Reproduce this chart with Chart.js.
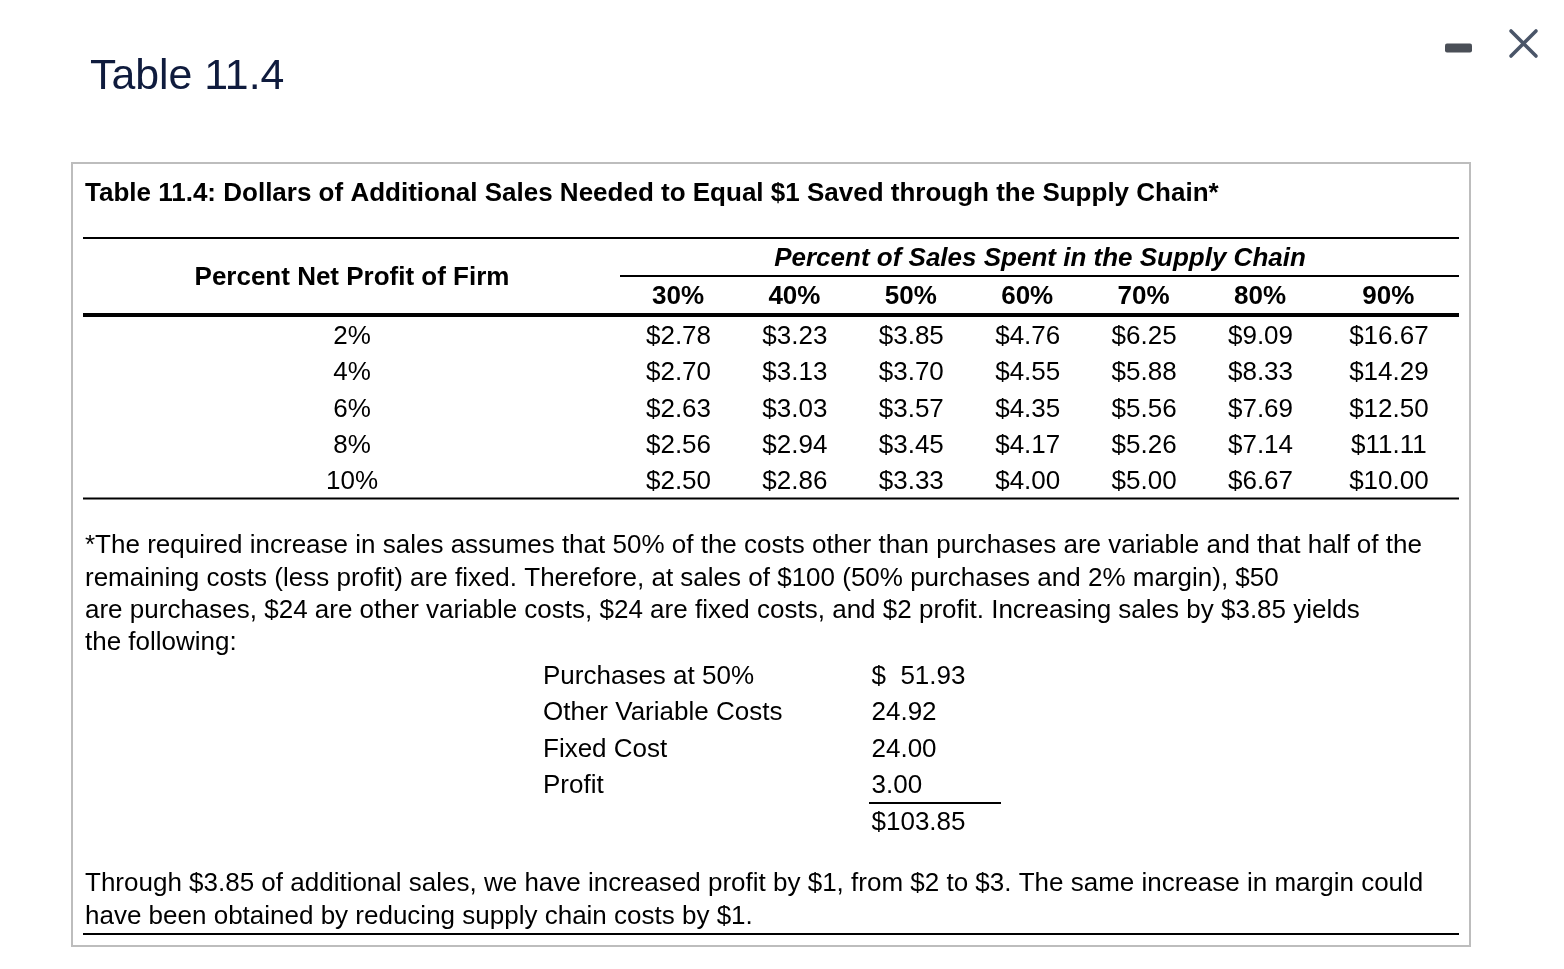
<!DOCTYPE html>
<html><head><meta charset="utf-8">
<style>html,body{margin:0;padding:0;background:#fff;overflow:hidden}#wrap{position:absolute;left:0;top:0;width:1564px;height:969px}</style>
<script src="https://cdn.jsdelivr.net/npm/chart.js@4"></script>
</head><body><div id="wrap"><canvas id="c" width="1564" height="969"></canvas></div>
<script>
const pageTitle = "Table 11.4";
const tableTitle = "Table 11.4: Dollars of Additional Sales Needed to Equal $1 Saved through the Supply Chain*";
const rowHeader = "Percent Net Profit of Firm";
const columnHeader = "Percent of Sales Spent in the Supply Chain";
const spendShares = ["30%","40%","50%","60%","70%","80%","90%"];
const profitRows = ["2%","4%","6%","8%","10%"];
const at30 = ["$2.78","$2.70","$2.63","$2.56","$2.50"];
const at40 = ["$3.23","$3.13","$3.03","$2.94","$2.86"];
const at50 = ["$3.85","$3.70","$3.57","$3.45","$3.33"];
const at60 = ["$4.76","$4.55","$4.35","$4.17","$4.00"];
const at70 = ["$6.25","$5.88","$5.56","$5.26","$5.00"];
const at80 = ["$9.09","$8.33","$7.69","$7.14","$6.67"];
const at90 = ["$16.67","$14.29","$12.50","$11.11","$10.00"];
const footnote = [
 "*The required increase in sales assumes that 50% of the costs other than purchases are variable and that half of the",
 "remaining costs (less profit) are fixed. Therefore, at sales of $100 (50% purchases and 2% margin), $50",
 "are purchases, $24 are other variable costs, $24 are fixed costs, and $2 profit. Increasing sales by $3.85 yields",
 "the following:"];
const breakdownLabels = ["Purchases at 50%","Other Variable Costs","Fixed Cost","Profit"];
const breakdownValues = ["$  51.93","24.92","24.00","3.00","$103.85"];
const closing = [
 "Through $3.85 of additional sales, we have increased profit by $1, from $2 to $3. The same increase in margin could",
 "have been obtained by reducing supply chain costs by $1."];

const columns = [at30,at40,at50,at60,at70,at80,at90];
const SANS = '"Liberation Sans", Arial, sans-serif';

const tablePlugin = {
  id:'tablePlugin',
  afterDraw(chart){
    const ctx = chart.ctx, xs = chart.scales.x, ys = chart.scales.y;
    const text = (s,x,y,font,color,align)=>{ctx.font=font;ctx.fillStyle=color||'#000';ctx.textAlign=align||'left';ctx.textBaseline='alphabetic';ctx.fillText(s,x,y);};
    const rule = (x0,x1,y,w,color)=>{ctx.fillStyle=color||'#000';ctx.fillRect(x0,y-w/2,x1-x0,w);};
    ctx.save();
    // frame
    ctx.strokeStyle='#bdbdbd';ctx.lineWidth=2;ctx.strokeRect(72,163,1398,783);
    // window controls
    ctx.fillStyle='#4a4f57';ctx.beginPath();ctx.roundRect(1445,43.5,27,9,2);ctx.fill();
    ctx.strokeStyle='#4a5568';ctx.lineWidth=3.6;ctx.lineCap='round';ctx.beginPath();
    ctx.moveTo(1511,31);ctx.lineTo(1536,56);ctx.moveTo(1536,31);ctx.lineTo(1511,56);ctx.stroke();
    text(pageTitle,90,89,'42.8px '+SANS,'#0f1b3d');
    text(tableTitle,85,201,'bold 26px '+SANS);
    rule(83,1459,238,2);rule(620,1459,276,2);rule(83,1459,315,4);rule(83,1459,498.5,2);
    text(columnHeader,1040,266,'italic bold 26px '+SANS,'#000','center');
    text(rowHeader,352,285,'bold 26px '+SANS,'#000','center');
    // column headers and cells, positioned through the chart's scales
    chart.data.datasets.forEach((ds,i)=>{
      const px = chart.getDatasetMeta(i).data;
      text(spendShares[i],px[0].x,304,'bold 26px '+SANS,'#000','center');
      px.forEach((p,j)=>text(columns[i][j],p.x+0.5,p.y+9,'26px '+SANS,'#000','center'));
    });
    profitRows.forEach((r,j)=>text(r,xs.getPixelForValue(2),ys.getPixelForValue(r)+9,'26px '+SANS,'#000','center'));
    const fy=[553,586,618,650]; footnote.forEach((s,k)=>text(s,85,fy[k],'26px '+SANS));
    const by=[684,720,757,793,830];
    breakdownLabels.forEach((s,k)=>text(s,543,by[k],'26px '+SANS));
    breakdownValues.forEach((s,k)=>text(s,871.5,by[k],'26px '+SANS));
    rule(869,1001,803,2);
    text(closing[0],85,891,'26px '+SANS);text(closing[1],85,924,'26px '+SANS);
    rule(83,1459,934,2);
    ctx.restore();
  }
};
// The 90% column sits slightly wider than the even 10-point spacing in the printed table.
const slot = [30,40,50,60,70,80,91.03];
new Chart(document.getElementById('c'),{
  type:'scatter',
  data:{datasets:spendShares.map((s,i)=>({label:s,
    data:columns[i].map((v,j)=>({x:slot[i],y:profitRows[j]})),
    pointRadius:0,showLine:false}))},
  options:{responsive:false,animation:false,
    layout:{padding:{left:84,right:106,top:317,bottom:471}},
    plugins:{legend:{display:false},tooltip:{enabled:false}},
    scales:{
      x:{type:'linear',min:-21.03,max:97.01,display:false},
      y:{type:'category',labels:profitRows,offset:true,display:false}
    }
  },
  plugins:[tablePlugin]
});
</script></body></html>
